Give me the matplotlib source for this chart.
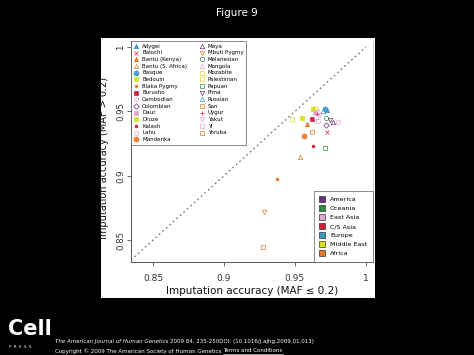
import matplotlib.pyplot as plt
from matplotlib.lines import Line2D

# region colours
regions = ['America', 'Oceania', 'East Asia', 'C/S Asia', 'Europe', 'Middle East', 'Africa']
region_colors = ['#6b2d7b', '#2f8a3e', '#e3a3cf', '#d31f3c', '#3b9bc4', '#d8e21f', '#e8782a']
rc = dict(zip(regions, region_colors))

# populations: name, region, marker, filled
pops = ['Adygei', 'Balochi', 'Bantu (Kenya)', 'Bantu (S. Africa)', 'Basque', 'Bedouin',
        'Biaka Pygmy', 'Burusho', 'Cambodian', 'Colombian', 'Daur', 'Druze', 'Kalash',
        'Lahu', 'Mandenka', 'Maya', 'Mbuti Pygmy', 'Melanesian', 'Mongola', 'Mozabite',
        'Palestinian', 'Papuan', 'Pima', 'Russian', 'San', 'Uygur', 'Yakut', 'Yi', 'Yoruba']
pop_region = ['Europe', 'C/S Asia', 'Africa', 'Africa', 'Europe', 'Middle East',
              'Africa', 'C/S Asia', 'East Asia', 'America', 'East Asia', 'Middle East', 'C/S Asia',
              'East Asia', 'Africa', 'America', 'Africa', 'Oceania', 'East Asia', 'Middle East',
              'Middle East', 'Oceania', 'America', 'Europe', 'Africa', 'C/S Asia', 'East Asia', 'East Asia', 'Africa']
pop_marker = ['^', 'x', '^', '^', '$\\oplus$', 's', '.', 's', 'o', 'D', 's', 's', '.',
              'o', '$\\oplus$', '^', 'v', 'o', '^', 's', 's', 's', 'v', '^', 's', '+', 'v', 's', 's']
pop_filled = [True, False, True, False, False, True, True, True, False, False, True, True, True,
              False, False, False, False, False, False, False, False, False, False, False, False, False, False, False, False]

# accuracy (MAF <= 0.2) and (MAF > 0.2)
acc_low = [0.9725, 0.9725, 0.9585, 0.9535, 0.9711, 0.9627, 0.9373, 0.9620, 0.9662, 0.9718,
           0.9640, 0.9549, 0.9627, 0.9803, 0.9563, 0.9768, 0.9282, 0.9718, 0.9660, 0.9479,
           0.9640, 0.9711, 0.9745, 0.9700, 0.9275, 0.9655, 0.9680, 0.9650, 0.9620]
acc_high = [0.9510, 0.9340, 0.9402, 0.9145, 0.9518, 0.9518, 0.8974, 0.9440, 0.9425, 0.9394,
            0.9495, 0.9448, 0.9230, 0.9417, 0.9308, 0.9417, 0.8718, 0.9448, 0.9500, 0.9440,
            0.9530, 0.9215, 0.9430, 0.9500, 0.8446, 0.9480, 0.9470, 0.9455, 0.9340]

xticks = [0.85, 0.9, 0.95, 1.0]
xticklabels = ['0.85', '0.9', '0.95', '1']

fig = plt.figure(figsize=(4.74, 3.55), dpi=100, facecolor='black')

# white panel behind the plot
bg = fig.add_axes([0.2131, 0.1606, 0.578, 0.7324], zorder=-1)
bg.set_facecolor('white')
bg.set_xticks([])
bg.set_yticks([])
for s in bg.spines.values():
    s.set_visible(False)

ax = fig.add_axes([0.2764, 0.2620, 0.5105, 0.6225])
ax.set_facecolor('white')
ax.set_xlim(0.8345, 1.005)
ax.set_ylim(0.833, 1.0047)

ax.plot([0.8345, 1.0], [0.8345, 1.0], linestyle=(0, (1.2, 2.2)), color='#777777', lw=1.0, zorder=1)

handles = []
for name, reg, m, f, x, y in zip(pops, pop_region, pop_marker, pop_filled, acc_low, acc_high):
    c = rc[reg]
    ms = 3.2
    if m == '.':
        ms = 4
    if m.startswith('$'):
        ms = 3.6
    if m == 'D':
        ms = 2.8
    kw = dict(marker=m, linestyle='none', markersize=ms, markeredgewidth=0.5, color=c)
    if m not in ('x', '+', '.') and not m.startswith('$'):
        kw['markerfacecolor'] = c if f else 'none'
        kw['markeredgecolor'] = c
    ax.plot([x], [y], zorder=3, **kw)
    handles.append(Line2D([], [], label=name, **kw))

leg1 = ax.legend(handles=handles, loc='upper left', ncol=2, fontsize=4, frameon=True,
                 fancybox=False, edgecolor='#555555', borderaxespad=0, handlelength=0.8,
                 handletextpad=0.7, labelspacing=0.3, columnspacing=2.2, borderpad=0.5)
leg1.get_frame().set_linewidth(0.6)
ax.add_artist(leg1)

reg_handles = [Line2D([], [], marker='s', linestyle='none', markersize=4, markerfacecolor=c,
                      markeredgecolor='#333333', markeredgewidth=0.5, label=r)
               for r, c in zip(regions, region_colors)]
leg2 = ax.legend(handles=reg_handles, loc='lower right', fontsize=4.6, frameon=True,
                 fancybox=False, edgecolor='#555555', borderaxespad=0, handlelength=0.8,
                 handletextpad=0.8, labelspacing=0.55, borderpad=0.9)
leg2.get_frame().set_linewidth(0.6)

ax.spines['top'].set_visible(False)
for s in ['left', 'bottom']:
    ax.spines[s].set_color('#555555')
    ax.spines[s].set_linewidth(0.7)
ax.spines['right'].set_color('#cccccc')
ax.spines['right'].set_linewidth(0.7)

ax.set_xticks(xticks)
ax.set_xticklabels(xticklabels)
ax.set_yticks(xticks)
ax.set_yticklabels(xticklabels, rotation=90, va='center')
ax.tick_params(direction='out', length=3, width=0.6, color='#555555', labelsize=6.5,
               labelcolor='#333333')
ax.tick_params(axis='x', pad=6)
ax.tick_params(axis='y', pad=1, labelsize=6.2)
ax.set_xlabel('Imputation accuracy (MAF \u2264 0.2)', fontsize=7.5, color='#111111', labelpad=2)
ax.set_ylabel('Imputation accuracy (MAF > 0.2)', fontsize=7, color='#111111')
ax.yaxis.set_label_coords(-0.09, 0.47)

fig.text(0.5, 0.962, 'Figure 9', color='white', fontsize=7.5, ha='center', va='center')

# footer
fig.text(0.017, 0.072, 'Cell', color='white', fontsize=15, fontweight='bold', ha='left', va='center')
fig.text(0.019, 0.022, 'P  R  E  S  S', color='white', fontsize=2.8, ha='left', va='center')

renderer = fig.canvas.get_renderer()
inv = fig.transFigure.inverted()


def chain(x, y, s, **kw):
    t = fig.text(x, y, s, color='white', fontsize=4, ha='left', va='center', **kw)
    bb = t.get_window_extent(renderer)
    x1 = inv.transform((bb.x1, bb.y0))[0]
    return t, x1


_, xe = chain(0.116, 0.037, 'The American Journal of Human Genetics', style='italic')
chain(xe + 0.004, 0.037, '2009 84, 235-250DOI: (10.1016/j.ajhg.2009.01.013)')
_, xe = chain(0.116, 0.012, 'Copyright \u00a9 2009 The American Society of Human Genetics')
t, xe2 = chain(xe + 0.004, 0.012, 'Terms and Conditions')
fig.add_artist(Line2D([xe + 0.004, xe2], [0.003, 0.003], color='white', lw=0.4,
                      transform=fig.transFigure))

fig.savefig('out.png', dpi=100, facecolor='black')
